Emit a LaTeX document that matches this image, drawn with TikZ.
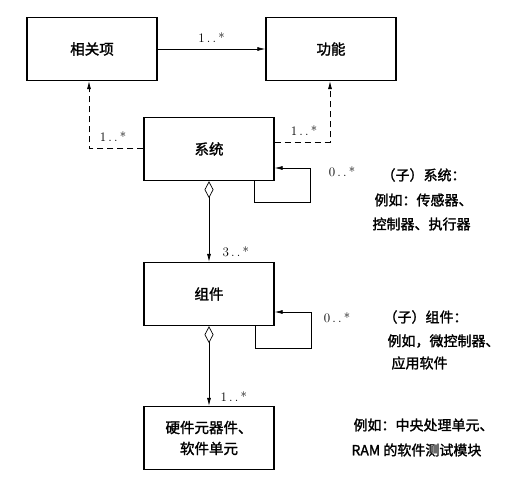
\documentclass[tikz,border=0pt]{standalone}
\usepackage{fontspec}
\newfontfamily\cjk[AutoFakeBold=1.6]{Noto Sans CJK SC}
\usetikzlibrary{positioning,arrows.meta,calc}

\newcommand{\mlt}[1]{#1\,.\,.\,*}

\tikzset{
  block/.style={draw,line width=1.3pt,minimum width=130pt,minimum height=63pt,
    font=\cjk\bfseries\fontsize{14.5}{21}\selectfont,align=center},
  link/.style={line width=0.7pt,-{Latex[length=8pt,width=4pt]}},
  dlink/.style={link,dash pattern=on 6pt off 4pt},
  agg/.style={line width=0.7pt,{Diamond[open,length=17pt,width=9pt]}-{Latex[length=8pt,width=4pt]}},
  mult/.style={font=\fontsize{13}{15}\selectfont},
  note/.style={font=\cjk\bfseries\fontsize{14}{16}\selectfont,anchor=west}
}

\begin{document}
\begin{tikzpicture}[x=1pt,y=-1pt]
\useasboundingbox (0,0) rectangle (524,480);
% boxes
\node [block] (item) at (92,49) {相关项};
\node [block] (func) at (331,49) {功能};
\node [block] (sys)  at (209,149) {系统};
\node [block] (comp) at (209,294) {组件};
\node [block] (unit) at (209,438) {硬件元器件、\\软件单元};

% item to function
\draw [link] (item.east) -- node [mult,above=3pt] {\mlt{1}} (func.west);

% system to item / function
\draw [dlink] (sys.west |- 0,148) -| (item.south -| 89,0);
\node [mult] at (113,137) {\mlt{1}};
\draw [dlink] (sys.east |- 0,142) -| (func.south -| 330,0);
\node [mult] at (304,131) {\mlt{1}};

% self loops
\draw [link] (sys.south -| 254,0) -- ++(0,21) -| (310,168) -- (sys.east |- 0,168);
\node [mult] at (342,172) {\mlt{0}};
\draw [link] (comp.south -| 255,0) -- ++(0,22) -| (311,312) -- (comp.east |- 0,312);
\node [mult] at (337,318) {\mlt{0}};

% aggregations
\draw [agg] (sys.south) -- node [mult,pos=0.88,right=10pt] {\mlt{3}} (comp.north);
\draw [agg] (comp.south) -- node [mult,pos=0.88,right=8pt] {\mlt{1}} (unit.north);

% notes
\node [note] at (378,175) {（子）系统：};
\node [note] at (371,200) {例如：传感器、};
\node [note] at (369,224) {控制器、执行器};
\node [note] at (380,317) {（子）组件：};
\node [note] at (384,341) {例如，微控制器、};
\node [note] at (388,363) {应用软件};
\node [note] at (350,425) {例如：中央处理单元、};
\node [note] at (348,450) {RAM 的软件测试模块};
\end{tikzpicture}
\end{document}
